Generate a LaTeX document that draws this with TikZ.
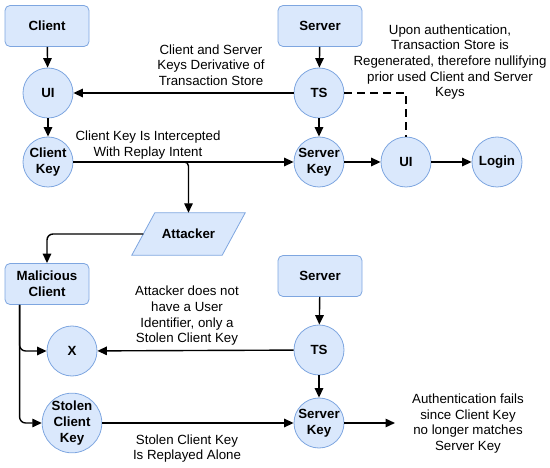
\documentclass[tikz,border=0pt]{standalone}
\usepackage{fontspec}
\setmainfont{Liberation Sans}
\usepackage{xcolor}
\usetikzlibrary{shapes.geometric, arrows.meta, positioning, calc, backgrounds}
\definecolor{boxfill}{HTML}{DAE8FC}
\definecolor{boxline}{HTML}{7EA6E0}

\begin{document}
\begin{tikzpicture}[
    x=1pt, y=-1pt,
    every node/.style={font=\fontsize{13.3}{15.7}\selectfont, align=center, inner sep=0pt},
    party/.style={rectangle, rounded corners=5pt, draw=boxline, fill=boxfill, line width=0.8pt, minimum width=84pt, minimum height=41pt, font=\fontsize{13.3}{15.7}\selectfont\bfseries},
    state/.style={circle, draw=boxline, fill=boxfill, line width=0.8pt, minimum size=50pt, font=\fontsize{13.3}{15.7}\selectfont\bfseries},
    actor/.style={rectangle, minimum width=90pt, minimum height=42pt, font=\fontsize{13.3}{15.7}\selectfont\bfseries},
    slanted/.style={draw=boxline, fill=boxfill, line width=0.8pt},
    arrow/.style={-{Triangle[length=9.5pt, width=8.5pt]}, line width=1.4pt},
    link/.style={line width=1.4pt}
]
    \useasboundingbox (0,0) rectangle (550,468);

    % genuine session
    \node[party] (client) at (47,26) {Client};
    \node[state] (ui) at (48,93) {UI};
    \node[state] (ckey) at (48,162) {Client\\Key};
    \node[party] (server) at (320,26) {Server};
    \node[state] (ts) at (319,93) {TS};
    \node[state] (skey) at (319,162) {Server\\Key};
    \node[state] (uiright) at (406,162) {UI};
    \node[state] (login) at (497,162) {Login};

    % replay attempt
    \node[actor] (attacker) at (188.5,234) {Attacker};
    \begin{scope}[on background layer]
        \draw[slanted] ([xshift=-11.5pt]attacker.south west) -- ([xshift=-11.5pt]attacker.south east)
            -- ([xshift=11.5pt]attacker.north east) -- ([xshift=11.5pt]attacker.north west) -- cycle;
    \end{scope}
    \node[party] (mclient) at (47,284) {Malicious\\Client};
    \node[state] (x) at (72,351) {X};
    \node[state, minimum size=55pt] (stolen) at (72,423) {Stolen\\Client\\Key};
    \node[party] (servertwo) at (320,276) {Server};
    \node[state] (tstwo) at (319,350) {TS};
    \node[state] (skeytwo) at (319,423) {Server\\Key};
    \coordinate (failend) at (395,423);

    % labels
    \node (derivetext) at (211,65) {Client and Server\\Keys Derivative of\\Transaction Store};
    \node (intercepttext) at (148,145) {Client Key Is Intercepted\\With Replay Intent};
    \node (regentext) at (450,62) {Upon authentication,\\Transaction Store is\\Regenerated, therefore nullifying\\prior used Client and Server\\Keys};
    \node (noidtext) at (187,316) {Attacker does not\\have a User\\Identifier, only a\\Stolen Client Key};
    \node (replaytext) at (187,448.5) {Stolen Client Key\\Is Replayed Alone};
    \node (failtext) at (468,423.5) {Authentication fails\\since Client Key\\no longer matches\\Server Key};

    \draw[arrow] (client) -- (ui);
    \draw[arrow] (ui) -- (ckey);
    \draw[arrow] (server) -- (ts);
    \draw[arrow] (ts) -- (ui);
    \draw[arrow] (ts) -- (skey);
    \draw[arrow] (ckey) -- (skey);
    \draw[arrow, rounded corners=4pt] (ckey.east) -| (attacker.north);
    \draw[arrow] (skey) -- (uiright);
    \draw[arrow] (uiright) -- (login);
    \draw[link, dash pattern=on 8pt off 5pt] (ts.east) -| (uiright.north);

    \draw[arrow, rounded corners=6pt] (attacker.west) -| (mclient.north);
    \draw[arrow, rounded corners=6pt] ([xshift=15pt]mclient.south west) |- (x.west);
    \draw[arrow, rounded corners=6pt] ([xshift=15pt]mclient.south west) |- (stolen.west);
    \draw[arrow] (servertwo) -- (tstwo);
    \draw[arrow] (tstwo) -- (x);
    \draw[arrow] (tstwo) -- (skeytwo);
    \draw[arrow] (stolen) -- (skeytwo);
    \draw[arrow] (skeytwo) -- (failend);
\end{tikzpicture}
\end{document}
